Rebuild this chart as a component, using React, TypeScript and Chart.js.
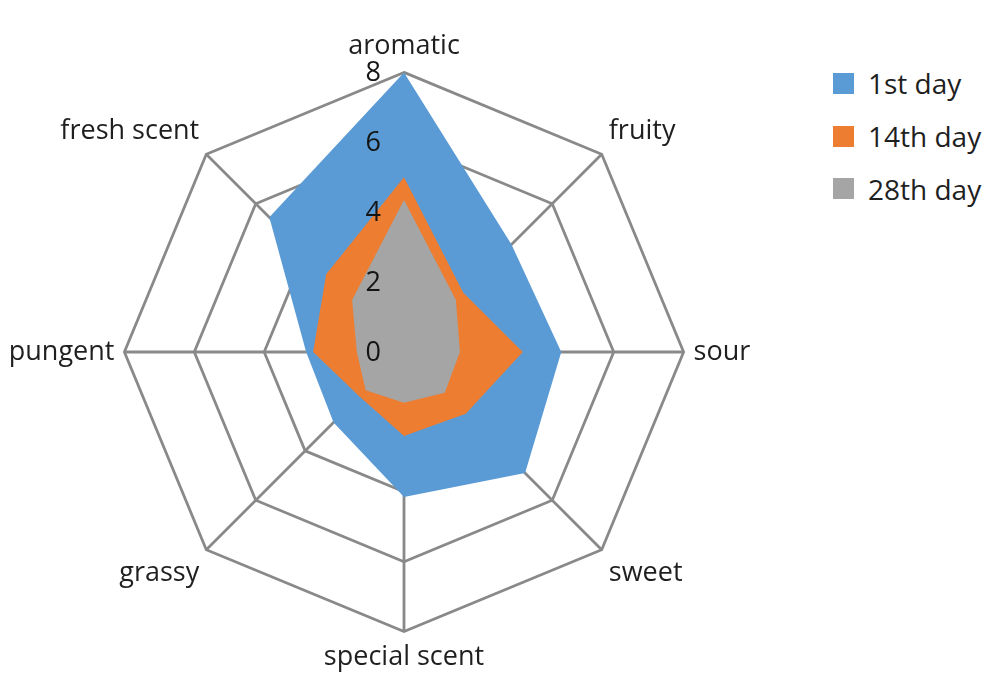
import React, { useEffect, useRef } from 'react';
import { Chart, registerables } from 'chart.js';

Chart.register(...registerables);

// Sensory attributes, clockwise from the top
const categories = ['aromatic', 'fruity', 'sour', 'sweet', 'special scent', 'grassy', 'pungent', 'fresh scent'];
const day1 = [8, 4.35, 4.5, 4.9, 4.15, 2.85, 2.8, 5.45];
const day14 = [5, 2.4, 3.4, 2.5, 2.4, 1.8, 2.6, 3.15];
const day28 = [4.35, 2.1, 1.6, 1.65, 1.45, 1.55, 1.35, 2.1];
const tickValues = [0, 2, 4, 6, 8];
const seriesNames = ['1st day', '14th day', '28th day'];
const seriesColors = ['#5b9bd5', '#ed7d31', '#a5a5a5'];

const FONT = '"Open Sans", "Liberation Sans", sans-serif';

// Tick numbers sit just left of the vertical axis, on top of the fills
const tickLabelPlugin = {
  id: 'tickLabels',
  afterDraw(chart: any) {
    const scale = chart.scales.r;
    const ctx = chart.ctx;
    ctx.save();
    ctx.font = `27px ${FONT}`;
    ctx.fillStyle = '#141414';
    ctx.textAlign = 'right';
    ctx.textBaseline = 'middle';
    tickValues.forEach((v) => {
      const d = scale.getDistanceFromCenterForValue(v);
      ctx.fillText(String(v), scale.xCenter - 23, scale.yCenter - d + 1);
    });
    ctx.restore();
  },
};

const App: React.FC = () => {
  const canvasRef = useRef<HTMLCanvasElement>(null);

  useEffect(() => {
    if (!canvasRef.current) return;
    const seriesData = [day1, day14, day28];

    const chart = new Chart(canvasRef.current, {
      type: 'radar',
      data: {
        labels: categories,
        datasets: seriesNames.map((name, i) => ({
          label: name,
          data: seriesData[i],
          backgroundColor: seriesColors[i],
          borderWidth: 0,
          pointRadius: 0,
          fill: true,
          order: 3 - i,
        })),
      },
      options: {
        responsive: false,
        maintainAspectRatio: false,
        animation: false,
        layout: { padding: { top: 30, bottom: 8, left: 0, right: 0 } },
        scales: {
          r: {
            z: 1,
            min: 0,
            max: 8,
            ticks: { stepSize: 2, display: false },
            grid: { color: '#898989', lineWidth: 2.8 },
            angleLines: { color: '#898989', lineWidth: 2.8 },
            pointLabels: {
              color: '#1f1f1f',
              padding: 10,
              font: { family: FONT, size: 27 },
            },
          },
        },
        plugins: {
          legend: { display: false },
          tooltip: { enabled: false },
        },
      },
      plugins: [tickLabelPlugin],
    });

    return () => chart.destroy();
  }, []);

  return (
    <div style={{ position: 'absolute', left: 0, top: 0, width: 987, height: 682, overflow: 'hidden', background: '#fff' }}>
      <canvas ref={canvasRef} width={820} height={682} style={{ position: 'absolute', left: -19, top: 0 }} />
      <div style={{ position: 'absolute', left: 833, top: 57, fontFamily: FONT, fontSize: 28, color: '#1f1f1f' }}>
        {seriesNames.map((name, i) => (
          <div key={name} style={{ display: 'flex', alignItems: 'center', height: 52.75, whiteSpace: 'nowrap' }}>
            <span style={{ width: 21, height: 21, background: seriesColors[i], marginRight: 14, flex: 'none' }} />
            <span>{name}</span>
          </div>
        ))}
      </div>
    </div>
  );
};

export default App;
